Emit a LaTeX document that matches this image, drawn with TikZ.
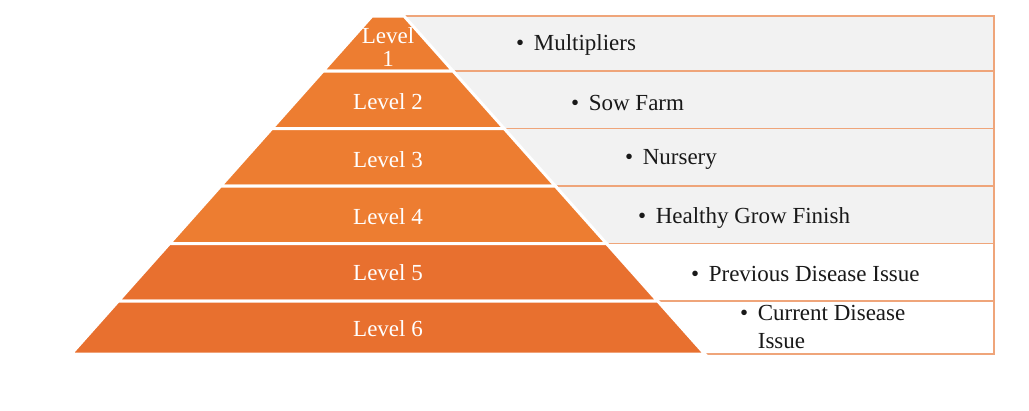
\documentclass[tikz,border=0pt]{standalone}
\usepackage{fontspec}
\setmainfont{Liberation Serif}
\usetikzlibrary{calc}

\definecolor{pyrLight}{HTML}{ED7D31}
\definecolor{pyrDark}{HTML}{E8702F}
\definecolor{boxEdge}{HTML}{EFA57A}
\definecolor{boxGray}{HTML}{F2F2F2}

\tikzset{
  levellabel/.style={text=white, align=center, font=\fontsize{23}{23}\selectfont, inner sep=0pt},
  itemlabel/.style={text=black!90, anchor=west, align=left, font=\fontsize{23}{28}\selectfont, inner sep=0pt},
  itembox/.style={draw=boxEdge, line width=1.5pt}
}

\begin{document}
\begin{tikzpicture}[x=1pt, y=-1pt]
\useasboundingbox (0,0) rectangle (1029,410);

% boxes behind the pyramid
\foreach \t/\b/\c in {16/71/boxGray, 71/128.5/boxGray, 128.5/186/boxGray, 186/243.5/boxGray, 243.5/301/white, 301/354/white}
  \draw[itembox, fill=\c] (388,\t) rectangle (994,\b);

% pyramid bands
\foreach \t/\b/\c in {16/71/pyrLight, 71/128.5/pyrLight, 128.5/186/pyrLight, 186/243.5/pyrLight, 243.5/301/pyrDark, 301/354/pyrDark}{
  \pgfmathsetmacro\wt{16+0.89*(\t-16)}
  \pgfmathsetmacro\wb{16+0.89*(\b-16)}
  \filldraw[fill=\c, draw=white, line width=3pt, line join=miter] ({388-\wt},\t) -- ({388+\wt},\t) -- ({388+\wb},\b) -- ({388-\wb},\b) -- cycle;
}

\node[levellabel] (lev1) at (388,47.5) {Level\\1};
\node[levellabel] (lev2) at (388,102) {Level 2};
\node[levellabel] (lev3) at (388,160) {Level 3};
\node[levellabel] (lev4) at (388,217) {Level 4};
\node[levellabel] (lev5) at (388,273) {Level 5};
\node[levellabel] (lev6) at (388,329) {Level 6};

\node[itemlabel] (mult) at (516,44.5) {\textbullet\ \,Multipliers};
\node[itemlabel] (sow) at (571,102.5) {\textbullet\ \,Sow Farm};
\node[itemlabel] (nurs) at (625,159.5) {\textbullet\ \,Nursery};
\node[itemlabel] (grow) at (638,217.5) {\textbullet\ \,Healthy Grow Finish};
\node[itemlabel] (prev) at (691,273.5) {\textbullet\ \,Previous Disease Issue};
\node[itemlabel] (curr) at (740,327) {\textbullet\ \,Current Disease\\\phantom{\textbullet\ \,}Issue};
\end{tikzpicture}
\end{document}
